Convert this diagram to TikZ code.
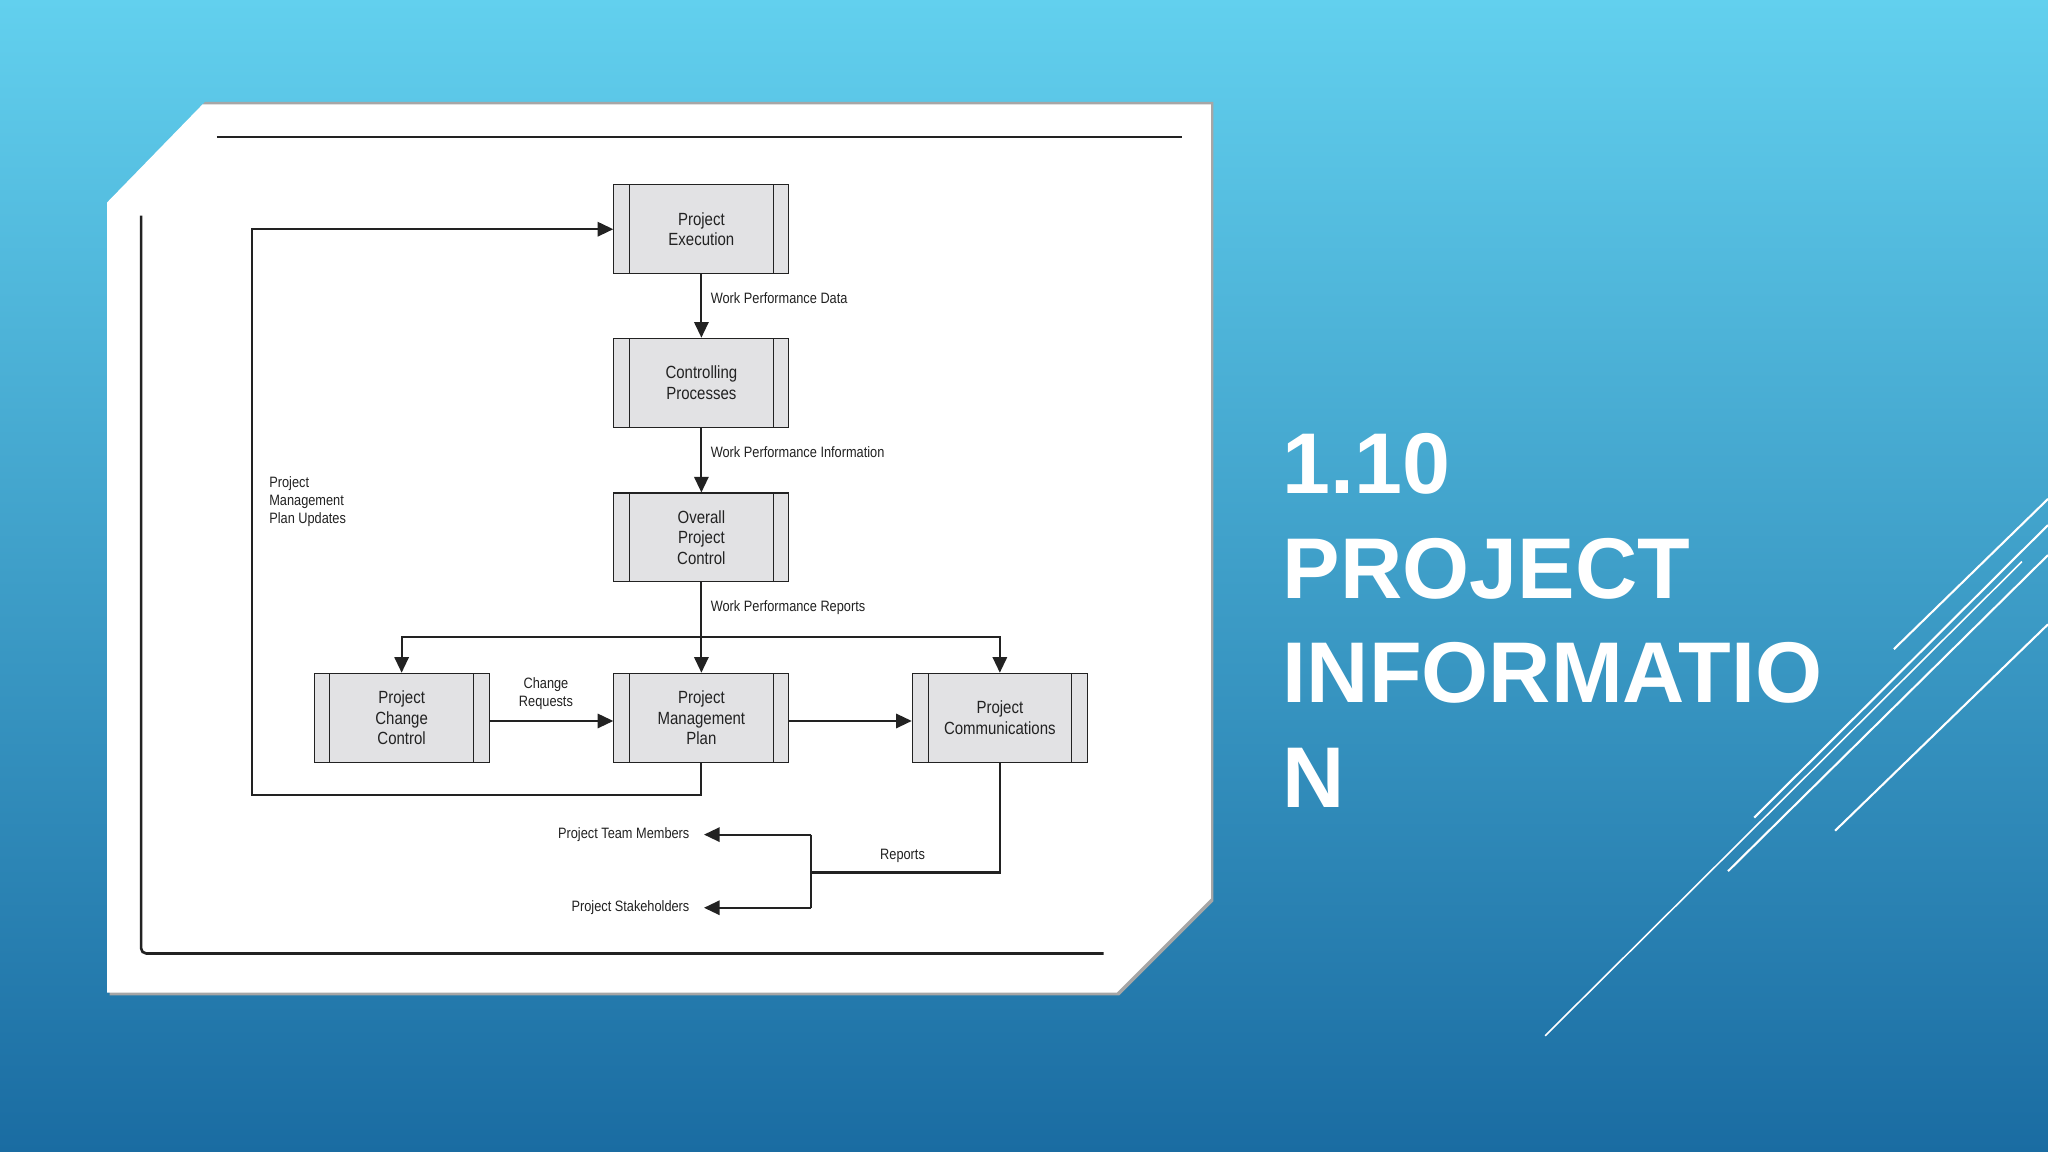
\documentclass[tikz,border=0pt]{standalone}
\usepackage{fontspec}
\setmainfont{Liberation Sans}
\newfontfamily\nar{Liberation Sans}[FakeStretch=0.85]
\usetikzlibrary{arrows.meta}
\definecolor{bgtop}{HTML}{62D0EE}
\definecolor{bgbot}{HTML}{1A6CA2}
\definecolor{boxg}{HTML}{E2E2E4}
\definecolor{ln}{HTML}{222222}
\begin{document}
\begin{tikzpicture}[x=1pt,y=-1pt,
  proc/.style={draw=ln,fill=boxg,line width=0.9pt,minimum width=134pt,minimum height=68pt,inner sep=0pt,align=center,font=\nar\fontsize{13.5}{15.5}\selectfont,text=ln,
    path picture={\draw[ln,line width=0.7pt] ([xshift=12pt]path picture bounding box.north west)--([xshift=12pt]path picture bounding box.south west)
      ([xshift=-12pt]path picture bounding box.north east)--([xshift=-12pt]path picture bounding box.south east);}},
  lab/.style={font=\nar\fontsize{11.5}{13.5}\selectfont,text=ln,inner sep=0pt},
  con/.style={draw=ln,line width=1.6pt},
  arr/.style={con,-{Triangle[length=12pt,width=11pt]}},
  deco/.style={draw=white,line width=1.6pt}]
\useasboundingbox (0,0) rectangle (1568,882);
\shade[top color=bgtop,bottom color=bgbot] (0,0) rectangle (1568,882);
% decorative lines
\draw[deco] (1450,497)--(1568,382);
\draw[deco] (1343,626)--(1568,402);
\draw[deco] (1323,667)--(1568,425);
\draw[deco] (1405,636)--(1568,478);
\draw[deco,line width=1.2pt] (1183,793)--(1548,430);
% title
\node[anchor=base west,text=white,font=\bfseries\fontsize{66}{80}\selectfont,inner sep=0pt] (t1) at (982,378) {1.10};
\node[anchor=base west,text=white,font=\bfseries\fontsize{66}{80}\selectfont,inner sep=0pt] (t2) at (982,458) {PROJECT};
\node[anchor=base west,text=white,font=\bfseries\fontsize{66}{80}\selectfont,inner sep=0pt] (t3) at (982,538) {INFORMATIO};
\node[anchor=base west,text=white,font=\bfseries\fontsize{66}{80}\selectfont,inner sep=0pt] (t4) at (982,618) {N};
% panel
\fill[gray!70] (157,78)--(929,78)--(929,690)--(857,762)--(84,762)--(84,157)--cycle;
\fill[white] (155,80)--(927,80)--(927,688)--(855,760)--(82,760)--(82,155)--cycle;
\draw[ln,line width=2pt] (166,105)--(905,105);
\draw[ln,line width=2pt,rounded corners=4pt] (108,165)--(108,730)--(845,730);
% boxes
\node[proc] (ex) at (537,175.5) {Project\\Execution};
\node[proc] (cp) at (537,293) {Controlling\\Processes};
\node[proc] (oc) at (537,411.5) {Overall\\Project\\Control};
\node[proc] (cc) at (307.5,549.5) {Project\\Change\\Control};
\node[proc] (pm) at (537,549.5) {Project\\Management\\Plan};
\node[proc] (pc) at (765.5,549.5) {Project\\Communications};
% connectors
\draw[arr] (ex) -- (cp);
\node[lab,anchor=west] (l1) at (544,228) {Work Performance Data};
\draw[arr] (cp) -- (oc);
\node[lab,anchor=west] (l2) at (544,346) {Work Performance Information};
\draw[arr] (oc) -- (pm);
\node[lab,anchor=west] (l3) at (544,465) {Work Performance Reports};
\coordinate (b) at (537,488);
\draw[arr] (b) -| (cc.north);
\draw[arr] (b) -| (pc.north);
\draw[arr] (cc.east|-552,552) -- (pm.west|-552,552);
\node[lab,align=center] (l4) at (418,531) {Change\\Requests};
\draw[arr] (pm.east|-552,552) -- (pc.west|-552,552);
\coordinate (f1) at (193,609);
\draw[arr] (pm.south) |- (f1) |- (ex.west);
\node[lab,anchor=north west,align=left] (l5) at (206,365) {Project\\Management\\Plan Updates};
\coordinate (j) at (621,668);
\node[lab,anchor=east] (tm) at (528,639) {Project Team Members};
\node[lab,anchor=east] (sh) at (528,695) {Project Stakeholders};
\draw[con] (pc.south) |- (j);
\draw[arr] (621,639) -- (539,639);
\draw[arr] (621,695) -- (539,695);
\draw[con] (621,639) -- (621,695);
\node[lab] (l6) at (691,655) {Reports};
\end{tikzpicture}
\end{document}
